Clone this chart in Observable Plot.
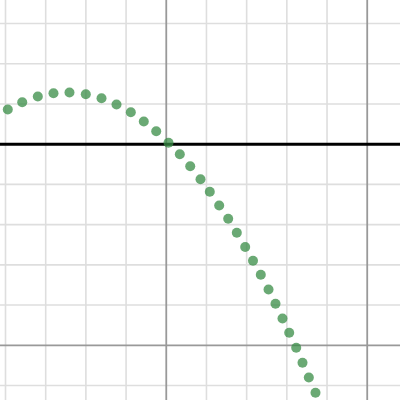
<!DOCTYPE html>
<html>
<head>
<meta charset="utf-8">
<script src="https://cdn.jsdelivr.net/npm/d3@7"></script>
<script src="https://cdn.jsdelivr.net/npm/@observablehq/plot@0.6"></script>
<style>
  html, body { margin: 0; padding: 0; background: #fff; }
  #chart { width: 400px; height: 400px; overflow: hidden; }
</style>
</head>
<body>
<div id="chart"></div>
<script>
// Point series
const xs = [1.057, 1.416, 1.804, 2.194, 2.592, 2.998, 3.389, 3.762, 4.118, 4.441,
            4.750, 5.056, 5.337, 5.596, 5.852, 6.083, 6.317, 6.541, 6.755, 6.964,
            7.158, 7.352, 7.544, 7.718, 7.892, 8.059, 8.233, 8.390, 8.547, 8.713];
const ys = [0.862, 1.044, 1.185, 1.267, 1.285, 1.242, 1.143, 0.986, 0.795, 0.564,
            0.322, 0.037, -0.249, -0.550, -0.871, -1.184, -1.525, -1.856, -2.204, -2.557,
            -2.897, -3.248, -3.613, -3.969, -4.334, -4.690, -5.063, -5.436, -5.801, -6.182];

// Grid lines
const minorX = [1, 2, 3, 4, 6, 7, 8, 9];
const majorX = [5, 10];
const minorY = [3, 2, 1, -1, -2, -3, -4, -6];
const majorY = [-5];
const axisY = [0];

const points = xs.map((x, i) => ({x, y: ys[i]}));

const chart = Plot.plot({
  width: 400,
  height: 400,
  margin: 0,
  marginTop: 0, marginRight: 0, marginBottom: 0, marginLeft: 0,
  x: {domain: [0.8756, 10.828], axis: null},
  y: {domain: [-6.373, 3.572], axis: null},
  marks: [
    Plot.ruleX(minorX, {stroke: "#dedede", strokeWidth: 1.6}),
    Plot.ruleY(minorY, {stroke: "#dedede", strokeWidth: 1.6}),
    Plot.ruleX(majorX, {stroke: "#999999", strokeWidth: 1.8}),
    Plot.ruleY(majorY, {stroke: "#999999", strokeWidth: 1.8}),
    Plot.ruleY(axisY, {stroke: "#000000", strokeWidth: 3}),
    Plot.dot(points, {x: "x", y: "y", r: 5, fill: "#388c46", fillOpacity: 0.75, stroke: "none"})
  ]
});
document.getElementById("chart").appendChild(chart);
</script>
</body>
</html>
